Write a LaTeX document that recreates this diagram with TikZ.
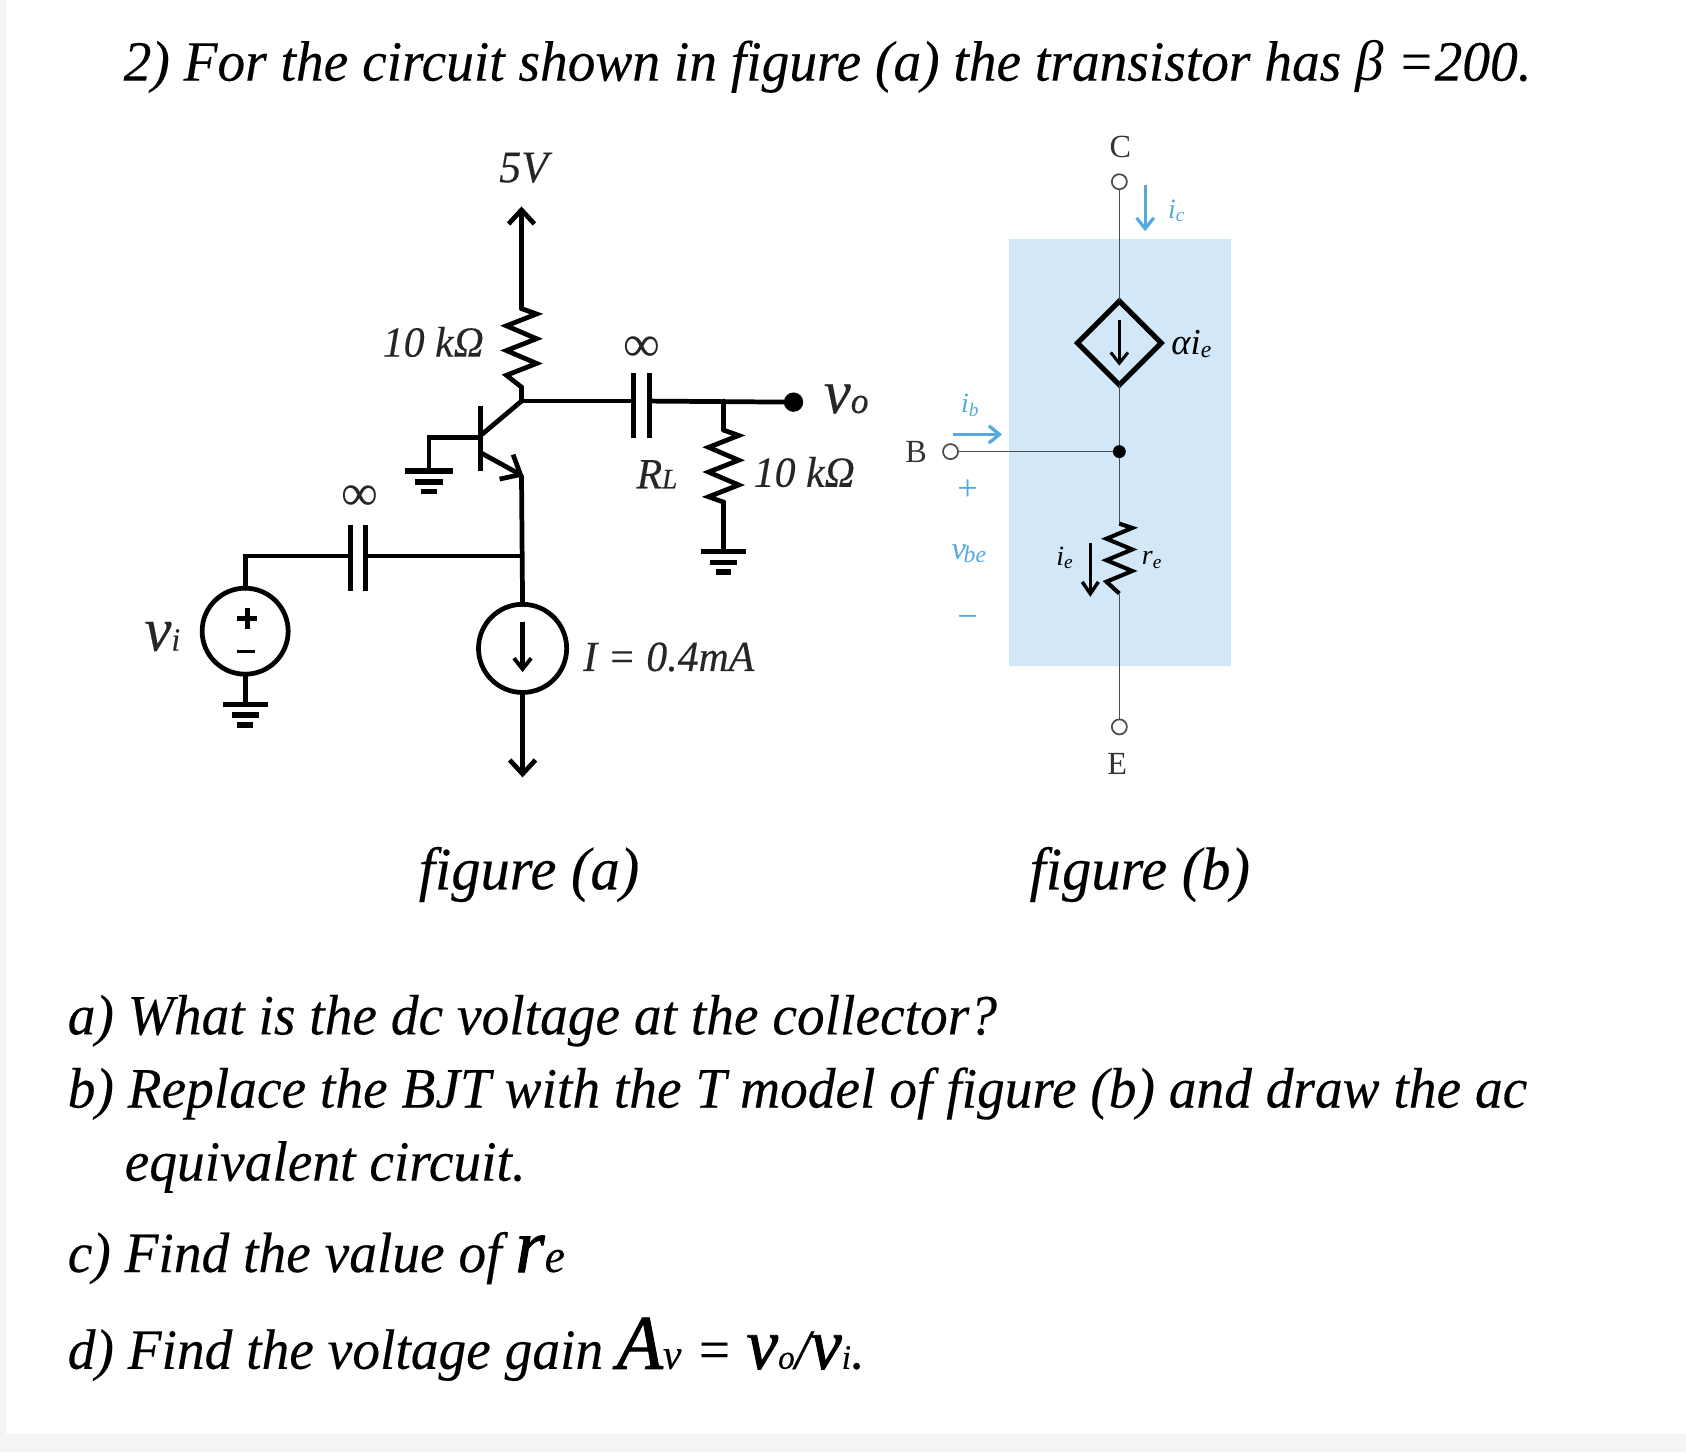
\documentclass[tikz,border=0pt]{standalone}
\usepackage{fontspec}
\setmainfont{Liberation Serif}
\newfontfamily\ti{Liberation Serif Italic}[FakeStretch=.972,FakeBold=.25]
\newfontfamily\tiw{Liberation Serif Italic}
\newfontfamily\tib{Liberation Serif Italic}[FakeStretch=.972,FakeBold=1.2]
\newcommand\fs[1]{\fontsize{#1}{#1}\selectfont}
\newcommand\lowsub[2]{\raisebox{-1.6pt}{\fs{#1}#2}}
\usetikzlibrary{arrows.meta,shapes.geometric}
\definecolor{panel}{HTML}{D2E7F7}
\definecolor{cblue}{HTML}{55A9DE}
\definecolor{page}{HTML}{F5F5F5}
\tikzset{
  wire/.style={line width=2.2pt,line cap=round,line join=miter},
  thinw/.style={line width=.75pt,draw=black!70},
  tip/.style={-{Straight Barb[length=6.5pt,width=12pt,line width=2.2pt]}},
  emtip/.style={-{Straight Barb[length=7.5pt,width=13pt,line width=2.2pt]}},
  smalltip/.style={-{Straight Barb[length=5pt,width=8pt,line width=1.8pt]}},
  bluetip/.style={-{Straight Barb[length=5pt,width=8pt,line width=1.5pt]},line width=1.5pt,draw=cblue},
  hand/.style={inner sep=0pt,outer sep=0pt,font=\ti\fs{26.5}},
  ckt/.style={inner sep=0pt,outer sep=0pt,font=\ti\fs{20},text=black!85},
  fb/.style={inner sep=0pt,outer sep=0pt,font=\tiw\fs{13}},
  fbb/.style={inner sep=0pt,outer sep=0pt,font=\tiw\fs{13},text=cblue},
  src/.style={circle,draw,line width=2.2pt,inner sep=0pt,outer sep=0pt,minimum size=40pt},
  term/.style={circle,draw=black!70,line width=.8pt,fill=white,inner sep=0pt,minimum size=7pt},
  dot/.style={circle,fill=black,inner sep=0pt,outer sep=0pt},
}
\newcommand\zigv[3]{\draw[#1] (#2) -- ++(14,5) -- ++(-28,11) -- ++(28,12) -- ++(-28,11) -- ++(28,12) -- ++(-28,11) -- (#3);}
\newcommand\gnd[3]{\draw[line width=2.6pt,line cap=butt] (#1,#2) ++(-#3,0) -- ++(2*#3,0) (#1,#2) ++(-#3*.6,10) -- ++(2*#3*.6,0) (#1,#2) ++(-#3*.34,19) -- ++(2*#3*.34,0);}
\begin{document}
\begin{tikzpicture}[x=.5pt,y=-.5pt]
\useasboundingbox (0,0) rectangle (1568,1350.4);
\fill[page] (0,0) rectangle (1568,1350.4);
\fill[white] (6,0) rectangle (1568,1334);

% texts
\node[hand,anchor=base west] (title) at (115,75) {2) For the circuit shown in figure (a) the transistor has {\tiw β} =200.};
\node[hand,anchor=base] (figa) at (492,827) {\fs{28}figure (a)};
\node[hand,anchor=base] (figb) at (1060,827) {\fs{28}figure (b)};
\node[hand,anchor=base west] (qa) at (63,962) {a) What is the dc voltage at the collector?};
\node[hand,anchor=base west] (qb) at (63,1030) {b) Replace the BJT with the T model of figure (b) and draw the ac};
\node[hand,anchor=base west] (qb2) at (116,1098) {equivalent circuit.};
\node[hand,anchor=base west] (qc) at (63,1183) {c) Find the value of {\tib\fs{36}r}{\fs{22}e}};
\node[hand,anchor=base west] (qd) at (63,1273) {d) Find the voltage gain {\tib\fs{36}A}{\fs{20}v} = {\tib\fs{34}v}{\fs{16}o}/{\tib\fs{34}v}{\fs{16}i}.};

% figure (a) points
\coordinate (vcc) at (485,192);
\coordinate (rct) at (485,287);
\coordinate (rcb) at (485,360);
\coordinate (col) at (485,373);
\coordinate (emi) at (487,443);
\coordinate (emo) at (485,443);
\coordinate (jin) at (485,517);
\coordinate (barc) at (447,405);
\coordinate (bare) at (447,421);
\coordinate (bart) at (447,378);
\coordinate (barb) at (447,438);
\coordinate (base) at (447,407);
\coordinate (bl) at (399,407);
\coordinate (bg) at (399,438);
\node[src,minimum size=41pt] (isrc) at (486,603) {};
\node[src] (vsrc) at (228,587) {};
\coordinate (vsgnd) at (228,655);
\coordinate (itail) at (486,723);
\node[dot,minimum size=9pt] (vo) at (738,374) {};
\coordinate (c2l) at (589,373);
\coordinate (c2r) at (604,373);
\coordinate (c1l) at (326,517);
\coordinate (c1r) at (340,517);
\coordinate (rlj) at (673,373);
\coordinate (rlt) at (673,400);
\coordinate (rlb) at (673,467);
\coordinate (rlg) at (673,513);
\coordinate (vl) at (228,517);

\draw[wire,tip] (rct) -- (vcc);
\zigv{wire}{rct}{rcb}
\draw[wire] (rcb) -- (col) -- (c2l);
\draw[wire] (c2r) -- (vo);
\draw[wire,line cap=butt] (589,347) -- (589,407) (604,347) -- (604,407);
\draw[wire,line cap=butt] (bart) -- (barb);
\draw[wire] (barc) -- (col);
\draw[wire,emtip,line cap=butt] (bare) -- (emi);
\draw[wire] (base) -- (bl) -- (bg);
\gnd{399}{438}{22}
\draw[wire] (emo) -- (isrc.north);
\draw[wire] (jin) -- (c1r);
\draw[wire] (c1l) -- (vl) -- (vsrc.north);
\draw[wire,line cap=butt] (326,488) -- (326,550) (340,488) -- (340,550);
\draw[wire,tip] (isrc.south) -- (itail);
\draw[wire] (vsrc.south) -- (vsgnd);
\gnd{228}{655}{21}
\draw[wire] (rlj) -- (rlt);
\zigv{wire}{rlt}{rlb}
\draw[wire] (rlb) -- (rlg);
\gnd{673}{513}{21}
\draw[line width=2.2pt,smalltip] (486,578) -- (486,625);
\draw[line width=2.4pt] (220,575) -- (239,575) (230,565) -- (230,585);
\draw[line width=1.5pt] (220,606) -- (237,606);

\node[ckt,font=\ti\fs{21}] (l5v) at (487,156) {5V};
\node[ckt] (lrc) at (403,318) {10 kΩ};
\node[ckt,font=\rmfamily\fs{24}] (inf2) at (597,325) {∞};
\node[ckt,font=\rmfamily\fs{24}] (inf1) at (335,463) {∞};
\node[ckt] (lvo) at (787,371) {{\fs{29}v}{\fs{17}o}};
\node[ckt] (lrl) at (611,441) {R{\fs{13}L}};
\node[ckt] (lrl2) at (748,439) {10 kΩ};
\node[ckt] (lvi) at (151,592) {{\fs{29}v}{\fs{15}i}};
\node[ckt] (li) at (622,611) {I = 0.4mA};

% figure (b)
\fill[panel] (938,222) rectangle (1145,619);
\node[term] (C) at (1041,169) {};
\node[term] (E) at (1041,676) {};
\node[term] (B) at (884,420) {};
\node[dot,minimum size=6pt] (junc) at (1041,420) {};
\node[diamond,draw,line width=2.4pt,inner sep=0pt,outer sep=0pt,minimum width=39pt,minimum height=39pt,aspect=1] (dep) at (1041,319) {};
\coordinate (ret) at (1041,487);
\coordinate (reb) at (1041,552);
\draw[thinw] (C) -- (dep.north);
\draw[thinw] (dep.south) -- (junc);
\draw[thinw] (B) -- (junc);
\draw[thinw] (junc) -- (ret);
\draw[line width=1.9pt,line join=miter] (ret) -- ++(12,4) -- ++(-24,10) -- ++(24,10) -- ++(-24,10) -- ++(24,10) -- ++(-24,10) -- (reb);
\draw[thinw] (reb) -- (E);
\draw[line width=1.4pt,-{Straight Barb[length=5pt,width=8pt,line width=1.4pt]}] (1041,298) -- (1041,340);
\draw[line width=1.6pt,-{Straight Barb[length=5.5pt,width=7.5pt,line width=1.6pt]}] (1014,505) -- (1014,555);
\draw[bluetip] (1065,172) -- (1065,215);
\draw[bluetip] (886,404) -- (932,404);

\node[inner sep=0pt,font=\rmfamily\fs{15},text=black!80] (lC) at (1042,137) {C};
\node[inner sep=0pt,font=\rmfamily\fs{15},text=black!80] (lE) at (1039,710) {E};
\node[inner sep=0pt,font=\rmfamily\fs{15},text=black!80] (lB) at (852,420) {B};
\node[fbb] (lic) at (1094,196) {i\lowsub{9}{c}};
\node[fbb] (lib) at (902,377) {i\lowsub{9}{b}};
\node[inner sep=0pt,font=\rmfamily\fs{17},text=cblue] (lp) at (900,456) {+};
\node[fbb] (lvbe) at (901,515) {{\fs{15}v}\hspace{-1pt}\lowsub{11}{be}};
\node[inner sep=0pt,font=\rmfamily\fs{17},text=cblue] (lm) at (900,578) {−};
\node[fb] (lie) at (990,519) {i\lowsub{9}{e}};
\node[fb] (lre) at (1071,521) {r\lowsub{9}{e}};
\node[fb,font=\tiw\fs{17}] (lai) at (1108,320) {αi\lowsub{11}{e}};
\end{tikzpicture}
\end{document}
